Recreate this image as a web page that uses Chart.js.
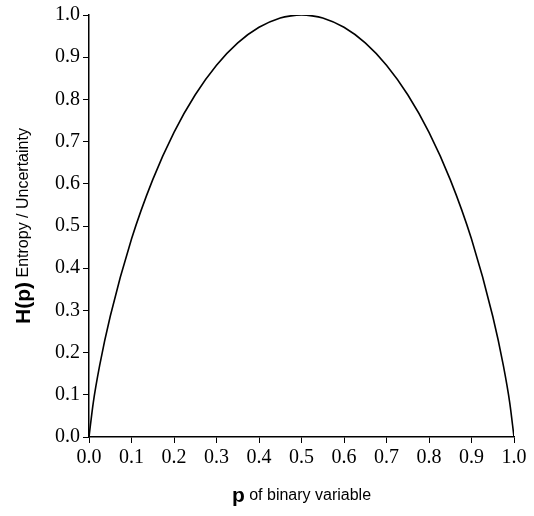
<!DOCTYPE html>
<html><head><meta charset="utf-8">
<script src="https://cdn.jsdelivr.net/npm/chart.js@4"></script>
<style>html,body{margin:0;background:#fff}#wrap{width:534px;height:516px}</style>
</head><body><div id="wrap"><canvas id="c"></canvas></div>
<script>
// p values and entropy
const pVals = [0,0.01,0.025,0.05,0.1,0.15,0.2,0.25,0.3,0.35,0.4,0.45,0.475,0.5,0.525,0.55,0.6,0.65,0.7,0.75,0.8,0.85,0.9,0.95,0.975,0.99,1];
const hVals = [0,0.081,0.169,0.286,0.469,0.610,0.722,0.811,0.881,0.934,0.971,0.993,0.998,1.0,0.998,0.993,0.971,0.934,0.881,0.811,0.722,0.610,0.469,0.286,0.169,0.081,0];
const xTitleBold = "p", xTitleRest = " of binary variable";
const yTitleBold = "H(p)", yTitleRest = " Entropy / Uncertainty";

const titles = {
  id:"titles",
  afterDraw(chart){
    const c = chart.ctx, a = chart.chartArea;
    c.save(); c.fillStyle="#000"; c.textBaseline="middle";
    c.font="bold 21px 'Liberation Sans'"; const w1=c.measureText(xTitleBold).width;
    c.font="16px 'Liberation Sans'"; const w2=c.measureText(xTitleRest).width;
    let x=(a.left+a.right)/2-(w1+w2)/2, y=496;
    c.font="bold 21px 'Liberation Sans'"; c.fillText(xTitleBold,x,y);
    c.font="16px 'Liberation Sans'"; c.fillText(xTitleRest,x+w1,y);
    c.translate(24,(a.top+a.bottom)/2); c.rotate(-Math.PI/2);
    c.font="bold 21px 'Liberation Sans'"; const v1=c.measureText(yTitleBold).width;
    c.font="16px 'Liberation Sans'"; const v2=c.measureText(yTitleRest).width;
    x=-(v1+v2)/2;
    c.font="bold 21px 'Liberation Sans'"; c.fillText(yTitleBold,x,0);
    c.font="16px 'Liberation Sans'"; c.fillText(yTitleRest,x+v1,0);
    c.restore();
  }
};

const tickFont={family:"'Liberation Serif'",size:20};
new Chart(document.getElementById("c"),{
  type:"line",
  data:{datasets:[{data:pVals.map((p,i)=>({x:p,y:hVals[i]})),borderColor:"#000",borderWidth:1.6,pointRadius:0,cubicInterpolationMode:"monotone",fill:false}]},
  options:{
    responsive:true,maintainAspectRatio:false,animation:false,
    layout:{padding:{left:52,right:20,top:14,bottom:43}},
    plugins:{legend:{display:false},tooltip:{enabled:false}},
    scales:{
      x:{type:"linear",min:0,max:1,
        grid:{drawOnChartArea:false,color:"#000",tickLength:6},border:{color:"#000",width:1.5},
        ticks:{stepSize:0.1,color:"#000",font:tickFont,maxRotation:0,callback:v=>v.toFixed(1)}},
      y:{min:0,max:1,
        grid:{drawOnChartArea:false,color:"#000",tickLength:6},border:{color:"#000",width:1.5},
        ticks:{stepSize:0.1,color:"#000",font:tickFont,callback:v=>v.toFixed(1)}}
    }
  },
  plugins:[titles]
});
</script></body></html>
